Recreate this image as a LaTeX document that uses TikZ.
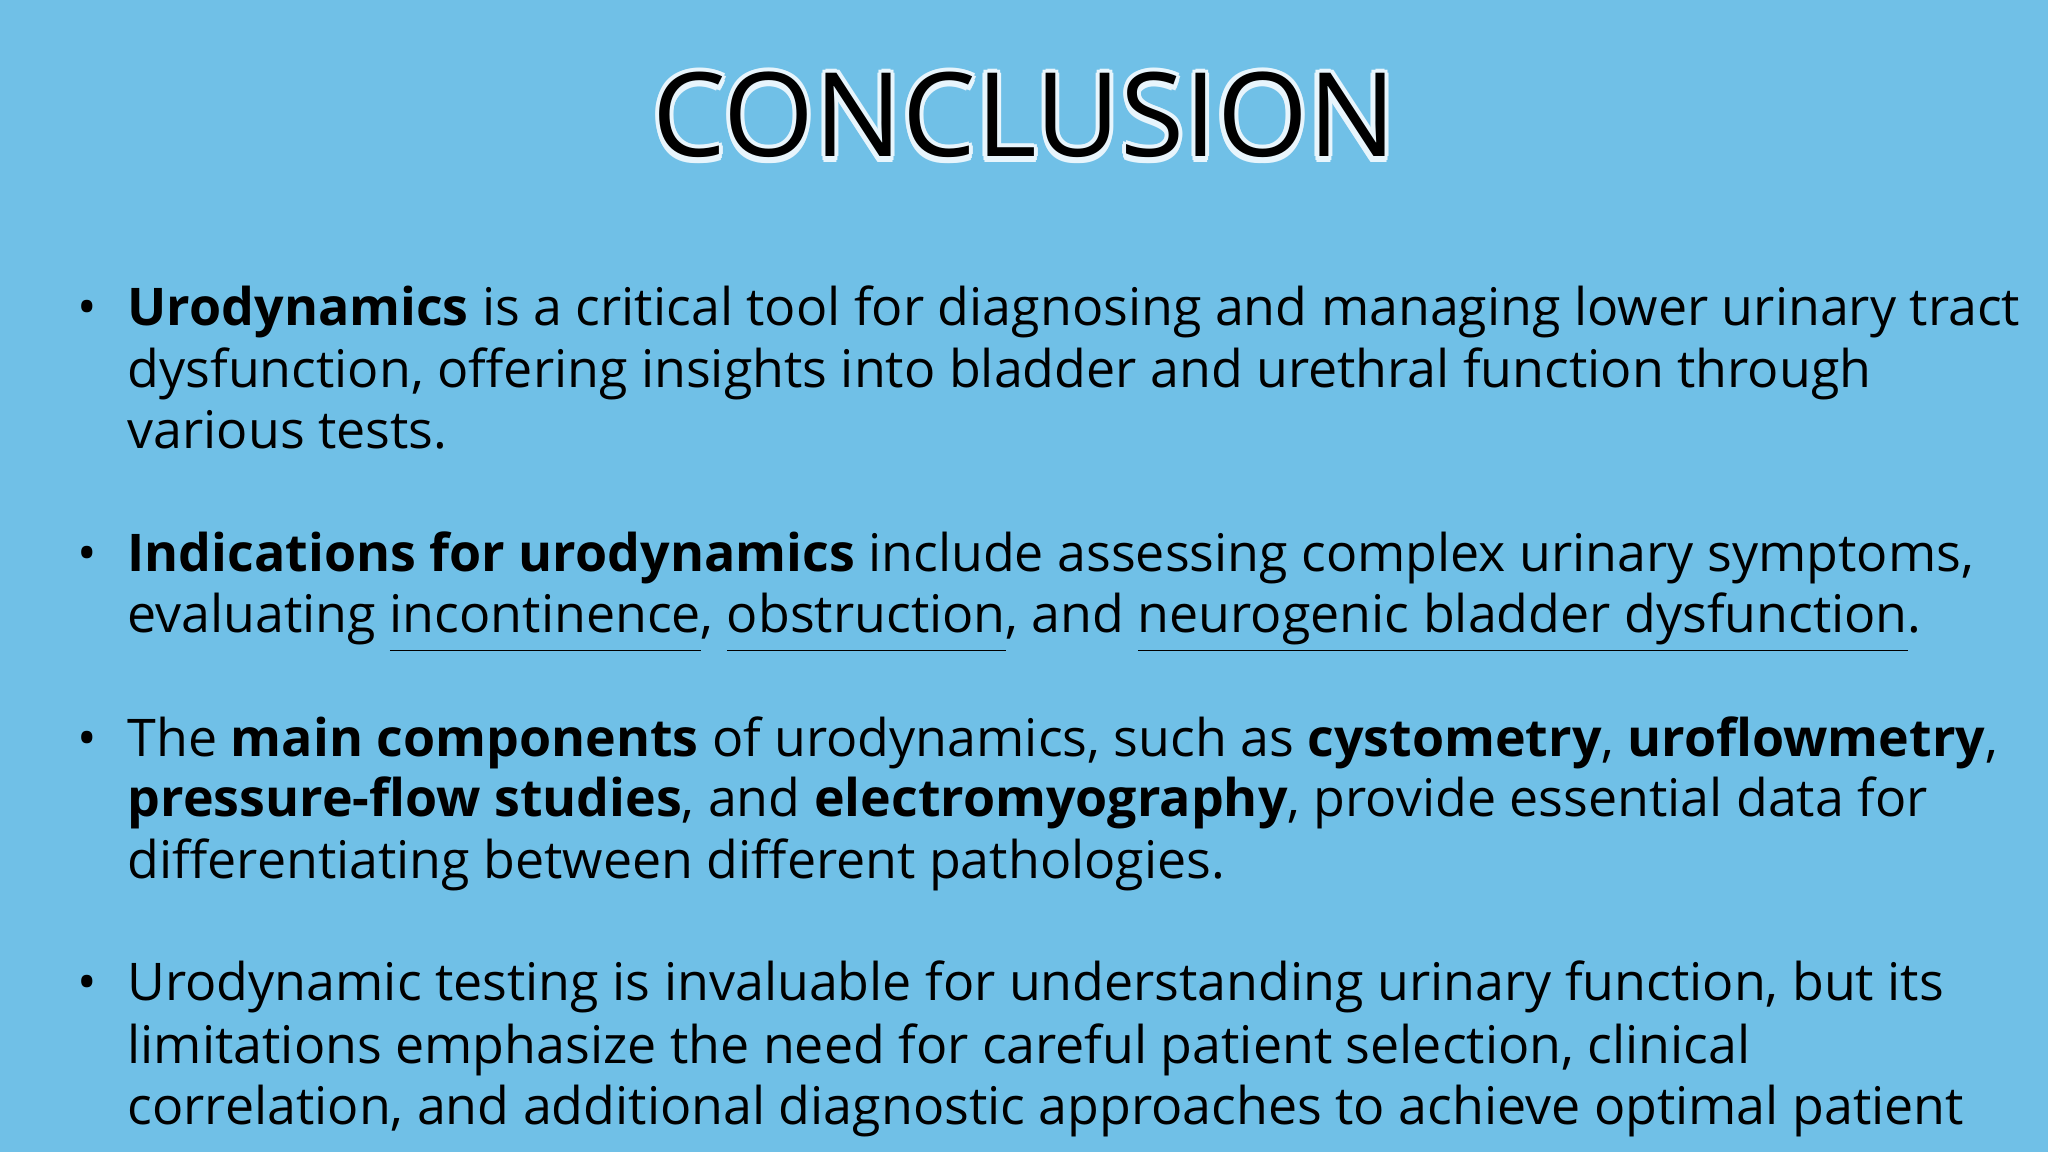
\documentclass[tikz,border=0pt]{standalone}
\usepackage{fontspec}
\setmainfont{Open Sans}
\definecolor{bg}{HTML}{70C0E7}
\definecolor{glow}{HTML}{E8F5FC}
\tikzset{ln/.style={anchor=base west,inner sep=0pt,font=\fontsize{14.77pt}{17pt}\selectfont},
 bul/.style={anchor=base,inner sep=0pt,font=\fontsize{14.77pt}{17pt}\selectfont},
 ttl/.style={anchor=base,inner sep=0pt,font=\fontsize{33.2pt}{40pt}\selectfont}}
\newcommand{\gw}[2]{\rlap{\hspace*{#1}\raisebox{#2}{\color{glow}CONCLUSION}}}
\newcommand{\myul}[1]{\underline{\vphantom{gy}#1}}
\begin{document}
\begin{tikzpicture}[x=1cm,y=1cm]
\fill[bg] (0,0) rectangle (20.48,-11.52);
\useasboundingbox (0,0) rectangle (20.48,-11.52);
\node[ttl] (title) at (10.24,-1.57) {\gw{1.2pt}{0pt}\gw{-1.2pt}{0pt}\gw{0pt}{1.2pt}\gw{0pt}{-1.2pt}\gw{0.9pt}{0.9pt}\gw{-0.9pt}{-0.9pt}\gw{0.9pt}{-0.9pt}\gw{-0.9pt}{0.9pt}\gw{0.6pt}{-1.6pt}\gw{-0.6pt}{-1.6pt}CONCLUSION};
\foreach \y in {3.26,5.72,7.56,10.01} \node[bul] at (0.87,-\y) {•};
\node[ln] (a1) at (1.27,-3.26) {\textbf{Urodynamics} is a critical tool for diagnosing and managing lower urinary tract};
\node[ln] (a2) at (1.27,-3.88) {dysfunction, offering insights into bladder and urethral function through};
\node[ln] (a3) at (1.27,-4.49) {various tests.};
\node[ln] (b1) at (1.27,-5.72) {\textbf{Indications for urodynamics} include assessing complex urinary symptoms,};
\node[ln] (b2) at (1.27,-6.33) {evaluating \myul{incontinence}, \myul{obstruction}, and \myul{neurogenic bladder dysfunction}.};
\node[ln] (c1) at (1.27,-7.56) {The \textbf{main components} of urodynamics, such as \textbf{cystometry}, \textbf{uroflowmetry},};
\node[ln] (c2) at (1.27,-8.17) {\textbf{pressure-flow studies}, and \textbf{electromyography}, provide essential data for};
\node[ln] (c3) at (1.27,-8.79) {differentiating between different pathologies.};
\node[ln] (d1) at (1.27,-10.01) {Urodynamic testing is invaluable for understanding urinary function, but its};
\node[ln] (d2) at (1.27,-10.63) {limitations emphasize the need for careful patient selection, clinical};
\node[ln] (d3) at (1.27,-11.24) {correlation, and additional diagnostic approaches to achieve optimal patient};
\end{tikzpicture}
\end{document}
